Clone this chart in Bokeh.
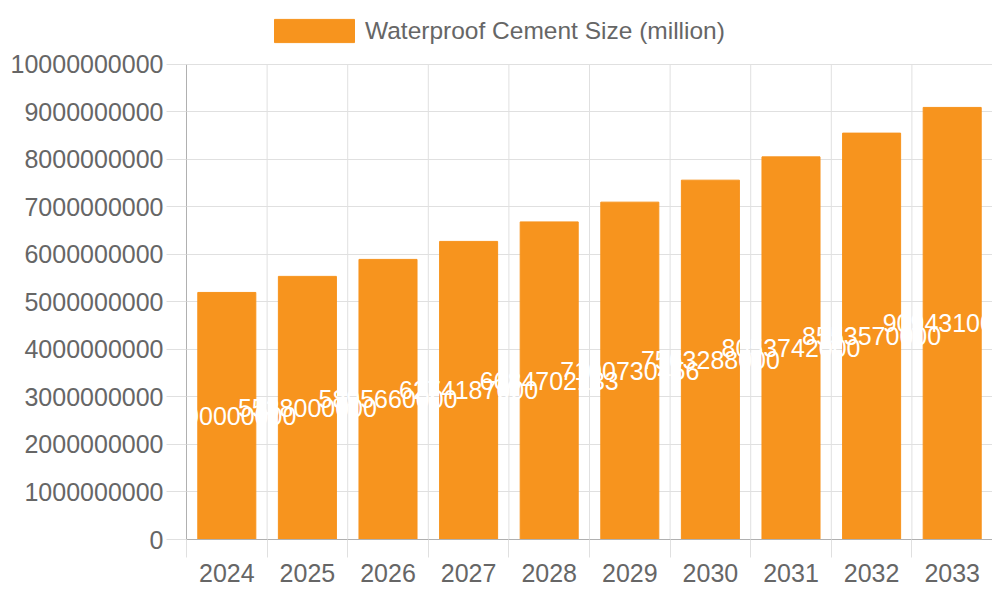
from bokeh.plotting import figure
from bokeh.models import ColumnDataSource, FixedTicker, BasicTickFormatter, Legend, LegendItem, Range1d
from bokeh.core.properties import value
from bokeh.embed import file_html
from bokeh.resources import INLINE

years = ["2024", "2025", "2026", "2027", "2028", "2029", "2030", "2031", "2032", "2033"]
sizes = [5200000000, 5538000000, 5895660000, 6274187000, 6684702133,
         7100730456, 7563288000, 8053742000, 8553570000, 9094310000]
series_name = "Waterproof Cement Size (million)"
y_ticks = [i * 1000000000 for i in range(11)]

FONT = "Liberation Sans"
BAR = "#F7941E"
GRID = "#e0e0e0"
AXIS = "#b0b0b0"
TXT = "#666666"
FS = "25px"

n = len(years)
centers = [i + 0.5 for i in range(n)]
bounds = [float(i) for i in range(n + 1)]
y_max = y_ticks[-1]

# frame extends above the value axis so the legend can sit at the top
TOP_PX, AX_TOP_PX, BOT_PX = 10, 64, 540
y_end = y_max * (BOT_PX - TOP_PX) / (BOT_PX - AX_TOP_PX)

src = ColumnDataSource(dict(
    x=centers, top=sizes, mid=[v / 2 for v in sizes], label=[str(v) for v in sizes]
))

p = figure(width=992, height=584, output_backend="svg", toolbar_location=None,
           x_range=Range1d(0, n), y_range=Range1d(0, y_end),
           min_border_left=186, min_border_right=0, min_border_top=TOP_PX, min_border_bottom=10)
p.outline_line_color = None
p.background_fill_color = "white"
p.xgrid.visible = False

# vertical category separators, limited to the value axis extent
p.segment(x0=bounds, y0=[0] * len(bounds), x1=bounds, y1=[y_max] * len(bounds),
          line_color=GRID, line_width=1, level="underlay")

bars = p.vbar(x="x", top="top", width=0.72, source=src, fill_color=BAR, line_color=BAR)
p.text(x="x", y="mid", text="label", source=src, text_color="white",
       text_font=value(FONT), text_font_size=FS, text_align="center", text_baseline="middle")

# x axis
xa = p.xaxis[0]
xa.ticker = FixedTicker(ticks=centers, minor_ticks=bounds)
xa.major_label_overrides = {c: y for c, y in zip(centers, years)}
xa.major_tick_out = 0
xa.major_tick_in = 0
xa.minor_tick_out = 18
xa.minor_tick_in = 0
xa.minor_tick_line_color = GRID
xa.axis_line_color = AXIS
xa.major_label_text_font = FONT
xa.major_label_text_font_size = FS
xa.major_label_text_color = TXT
xa.major_label_standoff = 6

# y axis
ya = p.yaxis[0]
ya.ticker = FixedTicker(ticks=y_ticks, minor_ticks=[])
ya.formatter = BasicTickFormatter(use_scientific=False)
ya.bounds = (0, y_max)
ya.major_tick_out = 20
ya.major_tick_in = 0
ya.minor_tick_out = 0
ya.major_tick_line_color = GRID
ya.axis_line_color = AXIS
ya.major_label_text_font = FONT
ya.major_label_text_font_size = FS
ya.major_label_text_color = TXT
ya.major_label_standoff = 3

p.ygrid.ticker = FixedTicker(ticks=y_ticks)
p.ygrid.grid_line_color = GRID

legend = Legend(items=[LegendItem(label=series_name, renderers=[bars])],
                location=(78, 494), orientation="horizontal",
                glyph_width=100, glyph_height=29, label_standoff=1,
                label_text_font=FONT, label_text_font_size="24.5px", label_text_color=TXT,
                padding=0, margin=0, border_line_color=None, background_fill_alpha=0,
                label_height=29, spacing=0)
p.add_layout(legend, "center")

open("out.html", "w").write(file_html(p, INLINE))
